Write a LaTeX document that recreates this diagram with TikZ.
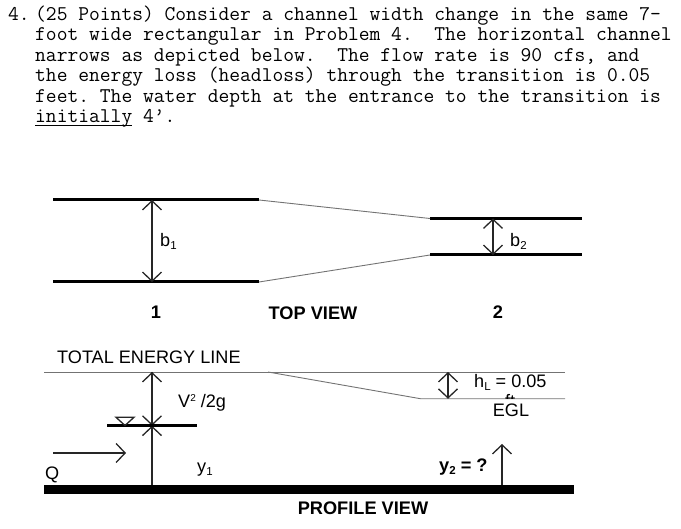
\documentclass[tikz,border=0pt]{standalone}
\usepackage{fontspec}
\setmainfont{Liberation Sans}
\setmonofont{Latin Modern Mono}
\usetikzlibrary{arrows.meta}
\newcommand{\subs}[1]{\raisebox{-2.5pt}{\fontsize{11.5}{11.5}\selectfont #1}}
\tikzset{
  x=1pt,y=-1pt,
  para/.style={anchor=base west,inner sep=0pt,font=\ttfamily\fontsize{20.95}{20.95}\selectfont},
  lbl/.style={anchor=base west,inner sep=0pt,font=\fontsize{18.1}{18}\selectfont,text=black},
  bld/.style={anchor=base,inner sep=0pt,font=\bfseries\fontsize{18.2}{18}\selectfont,text=black},
  wall/.style={line width=3pt,black},
  thin grey/.style={line width=0.9pt,black!55},
  head/.style={line width=1.3pt,black!85},
  up/.style={head,-{Straight Barb[length=9pt,width=19pt,line width=1.3pt]}},
  both/.style={head,{Straight Barb[length=9pt,width=19pt,line width=1.3pt]}-{Straight Barb[length=9pt,width=19pt,line width=1.3pt]}},
}
\begin{document}
\begin{tikzpicture}
\useasboundingbox (0,0) rectangle (681,529);
% problem text
\node[para] (t00) at (8,20.5) {4.};
\node[para] (t0) at (35,20.5) {(25 Points) Consider a channel width change in the same 7-};
\node[para] (t1) at (35,41) {foot wide rectangular in Problem 4.\ \ The horizontal channel};
\node[para] (t2) at (35,61.5) {narrows as depicted below.\ \ The flow rate is 90 cfs, and};
\node[para] (t3) at (35,82) {the energy loss (headloss) through the transition is 0.05};
\node[para] (t4) at (35,102.5) {feet. The water depth at the entrance to the transition is};
\node[para] (t5) at (35,123) {initially 4’.};
\coordinate (ul1) at (35,125.5); \coordinate (ul2) at (132,125.5);
\draw[line width=1pt] (ul1) -- (ul2);
% top view
\coordinate (a1) at (53,200); \coordinate (a2) at (259,200);
\coordinate (b1) at (53,282); \coordinate (b2) at (259,282);
\coordinate (c1) at (430,218.5); \coordinate (c2) at (582,218.5);
\coordinate (d1) at (430,255); \coordinate (d2) at (582,255);
\draw[wall] (a1) -- (a2);
\draw[wall] (b1) -- (b2);
\draw[wall] (c1) -- (c2);
\draw[wall] (d1) -- (d2);
\draw[thin grey] (a2) -- (c1);
\draw[thin grey] (b2) -- (d1);
\coordinate (w1t) at (152,200); \coordinate (w1b) at (152,282);
\coordinate (w2t) at (493,218.5); \coordinate (w2b) at (493,255);
\draw[both] (w1t) -- (w1b);
\draw[both] (w2t) -- (w2b);
\node[lbl] (lb1) at (160,247) {b\subs{1}};
\node[lbl] (lb2) at (510,247) {b\subs{2}};
\node[bld] (n1) at (156,319) {1};
\node[bld] (tv) at (313,320) {TOP VIEW};
\node[bld] (n2) at (498,319) {2};
% profile view
\node[lbl] (tel) at (57,364) {TOTAL ENERGY LINE};
\coordinate (e1) at (44,372); \coordinate (e2) at (565,372);
\coordinate (e3) at (268,372); \coordinate (e4) at (421,398.8); \coordinate (e5) at (565,398.8);
\draw[thin grey] (e1) -- (e2);
\draw[thin grey] (e3) -- (e4) -- (e5);
\coordinate (hl1) at (448,372); \coordinate (hl2) at (448,398.8);
\draw[both] (hl1) -- (hl2);
\node[lbl] (hl) at (474,388) {h\subs{L} = 0.05};
\begin{scope}
\clip (500,390) rectangle (525,398.5);
\node[lbl] (ft) at (505,408) {ft};
\end{scope}
\node[lbl,anchor=base] (egl) at (511,417) {EGL};
% bed
\node[fill=black,draw=none,inner sep=0pt,minimum width=530pt,minimum height=9pt,anchor=north west] (bed) at (44,484.5) {};
\coordinate (y1b) at (152,485); \coordinate (ws) at (152,425.7); \coordinate (y1t) at (152,372);
\draw[up] (y1b) -- (y1t);
\draw[head,-{Straight Barb[length=9pt,width=19pt,line width=1.3pt]}] (y1t) -- (ws);
\draw[head,-{Straight Barb[length=9pt,width=19pt,line width=1.3pt]}] (y1b) -- (ws);
\coordinate (s1) at (107,425.7); \coordinate (s2) at (197,425.7);
\draw[line width=2.4pt,black] (s1) -- (s2);
\draw[line width=1.3pt,black!85,line join=miter] (116,417.3) -- (134,417.3) -- (125,425.5) -- cycle;
\coordinate (q1) at (53,453); \coordinate (q2) at (126,453);
\draw[up] (q1) -- (q2);
\node[lbl] (Q) at (45,480) {Q};
\node[lbl] (y1) at (197,473) {y\subs{1}};
\node[lbl] (v) at (178,408) {V\raisebox{6pt}{\fontsize{10}{10}\selectfont 2} /2g};
\node[bld,anchor=base west] (y2) at (439,472) {y\subs{\bfseries 2} = ?};
\coordinate (y2b) at (502,485); \coordinate (y2t) at (502,444);
\draw[up] (y2b) -- (y2t);
\node[bld] (pv) at (363,515) {PROFILE VIEW};
\end{tikzpicture}
\end{document}
